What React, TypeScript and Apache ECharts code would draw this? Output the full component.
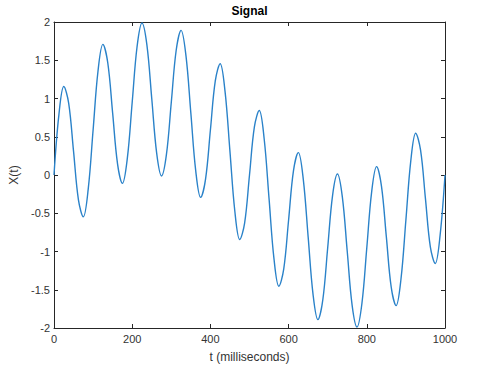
import React, { useEffect, useRef } from "react";
import * as echarts from "echarts";

const timeMs = [
  0, 12.5, 25, 37.5, 50, 62.5, 75, 87.5,
  100, 112.5, 125, 137.5, 150, 162.5, 175, 187.5,
  200, 212.5, 225, 237.5, 250, 262.5, 275, 287.5,
  300, 312.5, 325, 337.5, 350, 362.5, 375, 387.5,
  400, 412.5, 425, 437.5, 450, 462.5, 475, 487.5,
  500, 512.5, 525, 537.5, 550, 562.5, 575, 587.5,
  600, 612.5, 625, 637.5, 650, 662.5, 675, 687.5,
  700, 712.5, 725, 737.5, 750, 762.5, 775, 787.5,
  800, 812.5, 825, 837.5, 850, 862.5, 875, 887.5,
  900, 912.5, 925, 937.5, 950, 962.5, 975, 987.5,
  1000,
];

const signal = [
  0, 0.7856, 1.1564, 0.9405, 0.309, -0.3244, -0.546, -0.1846,
  0.5878, 1.3565, 1.7071, 1.4675, 0.809, 0.1455, -0.109, 0.2168,
  0.9511, 1.6795, 1.9877, 1.704, 1.0, 0.2898, -0.0123, 0.2653,
  0.9511, 1.631, 1.891, 1.5597, 0.809, 0.0533, -0.2929, -0.0577,
  0.5878, 1.2296, 1.454, 1.0898, 0.309, -0.4737, -0.8436, -0.6286,
  0, 0.6286, 0.8436, 0.4737, -0.309, -1.0898, -1.454, -1.2296,
  -0.5878, 0.0577, 0.2929, -0.0533, -0.809, -1.5597, -1.891, -1.631,
  -0.9511, -0.2653, 0.0123, -0.2898, -1.0, -1.704, -1.9877, -1.6795,
  -0.9511, -0.2168, 0.109, -0.1455, -0.809, -1.4675, -1.7071, -1.3565,
  -0.5878, 0.1846, 0.546, 0.3244, -0.309, -0.9405, -1.1564, -0.7856,
  0,
];

const titleText = "Signal";
const xName = "t (milliseconds)";
const yName = "X(t)";
const xMin = 0;
const xMax = 1000;
const xStep = 200;
const yMin = -2;
const yMax = 2;
const yStep = 0.5;

const FONT = '"Liberation Sans", Arial, Helvetica, sans-serif';
const AXIS_COLOR = "#262626";
const LABEL_COLOR = "#333333";

export default function App() {
  const ref = useRef<HTMLDivElement>(null);

  useEffect(() => {
    if (!ref.current) return;
    const chart = echarts.init(ref.current, undefined, { renderer: "svg" });

    const axisLine = { show: true, onZero: false, lineStyle: { color: AXIS_COLOR, width: 1 } };
    const axisTick = { show: true, inside: true, length: 4, lineStyle: { color: AXIS_COLOR, width: 1 } };

    const gridLeft = 54;
    const gridTop = 22;
    const gridRight = 34;
    const gridBottom = 39;
    const plotCenterX = gridLeft + (479 - gridLeft - gridRight) / 2;

    chart.setOption({
      animation: false,
      backgroundColor: "#ffffff",
      textStyle: { fontFamily: FONT },
      grid: { left: gridLeft, top: gridTop, right: gridRight, bottom: gridBottom, containLabel: false },
      graphic: [
        {
          type: "text",
          x: plotCenterX,
          y: 5,
          style: {
            text: titleText,
            fontFamily: FONT,
            fontSize: 12,
            fontWeight: "bold",
            fill: "#000000",
            textAlign: "center",
            textVerticalAlign: "top",
          },
        },
      ],
      xAxis: [
        {
          type: "value",
          position: "bottom",
          min: xMin,
          max: xMax,
          interval: xStep,
          name: xName,
          nameLocation: "middle",
          nameGap: 23,
          nameTextStyle: { fontSize: 12, color: LABEL_COLOR, fontFamily: FONT },
          axisLine,
          axisTick,
          axisLabel: {
            show: true,
            margin: 5,
            fontSize: 11,
            color: LABEL_COLOR,
            fontFamily: FONT,
            formatter: (v: number) => String(v),
          },
          splitLine: { show: false },
        },
        {
          type: "value",
          position: "top",
          min: xMin,
          max: xMax,
          interval: xStep,
          axisLine,
          axisTick,
          axisLabel: { show: false },
          splitLine: { show: false },
        },
      ],
      yAxis: [
        {
          type: "value",
          position: "left",
          min: yMin,
          max: yMax,
          interval: yStep,
          name: yName,
          nameLocation: "middle",
          nameGap: 31,
          nameTextStyle: { fontSize: 12, color: LABEL_COLOR, fontFamily: FONT },
          axisLine,
          axisTick,
          axisLabel: {
            show: true,
            margin: 4,
            fontSize: 11,
            color: LABEL_COLOR,
            fontFamily: FONT,
            formatter: (v: number) => String(v),
          },
          splitLine: { show: false },
        },
        {
          type: "value",
          position: "right",
          min: yMin,
          max: yMax,
          interval: yStep,
          axisLine,
          axisTick,
          axisLabel: { show: false },
          splitLine: { show: false },
        },
      ],
      series: [
        {
          type: "line",
          xAxisIndex: 0,
          yAxisIndex: 0,
          data: timeMs.map((t, i) => [t, signal[i]]),
          smooth: 0.37,
          showSymbol: false,
          symbol: "none",
          lineStyle: { color: "#2a82c9", width: 1.4 },
          clip: true,
        },
      ],
    });

    return () => {
      chart.dispose();
    };
  }, []);

  return (
    <div
      ref={ref}
      style={{ position: "absolute", left: 0, top: 0, width: 479, height: 368 }}
    />
  );
}
